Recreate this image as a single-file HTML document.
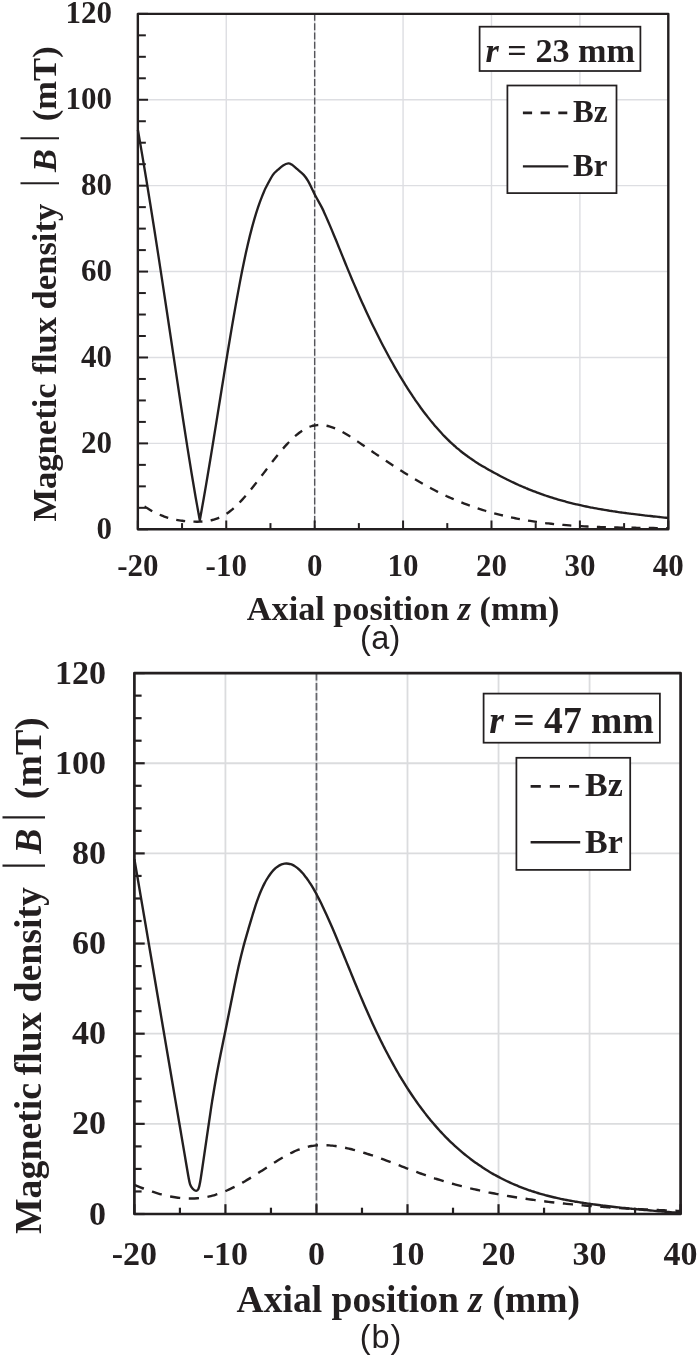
<!DOCTYPE html>
<html lang="en">
<head>
<meta charset="utf-8">
<title>Magnetic flux density versus axial position</title>
<style>
html,body{margin:0;padding:0;background:#ffffff;}
body{width:700px;height:1356px;overflow:hidden;}
svg{display:block;filter:blur(0.45px);}
svg text{font-family:"Liberation Serif",serif;font-weight:bold;fill:#231f20;}
</style>
</head>
<body>
<svg width="700" height="1356" viewBox="0 0 700 1356">
<rect x="0" y="0" width="700" height="1356" fill="#ffffff"/>
<g>
<line x1="226.26" y1="13.85" x2="226.26" y2="529.30" stroke="#dddee2" stroke-width="1.40"/>
<line x1="314.67" y1="13.85" x2="314.67" y2="529.30" stroke="#dddee2" stroke-width="1.40"/>
<line x1="403.07" y1="13.85" x2="403.07" y2="529.30" stroke="#dddee2" stroke-width="1.40"/>
<line x1="491.48" y1="13.85" x2="491.48" y2="529.30" stroke="#dddee2" stroke-width="1.40"/>
<line x1="579.89" y1="13.85" x2="579.89" y2="529.30" stroke="#dddee2" stroke-width="1.40"/>
<line x1="137.85" y1="443.39" x2="668.30" y2="443.39" stroke="#dddee2" stroke-width="1.40"/>
<line x1="137.85" y1="357.48" x2="668.30" y2="357.48" stroke="#dddee2" stroke-width="1.40"/>
<line x1="137.85" y1="271.57" x2="668.30" y2="271.57" stroke="#dddee2" stroke-width="1.40"/>
<line x1="137.85" y1="185.67" x2="668.30" y2="185.67" stroke="#dddee2" stroke-width="1.40"/>
<line x1="137.85" y1="99.76" x2="668.30" y2="99.76" stroke="#dddee2" stroke-width="1.40"/>
<line x1="314.67" y1="13.85" x2="314.67" y2="529.30" stroke="#55555a" stroke-width="1.40" stroke-dasharray="7 2.3"/>
<line x1="137.85" y1="529.30" x2="148.05" y2="529.30" stroke="#231f20" stroke-width="2.00"/>
<line x1="137.85" y1="507.82" x2="145.85" y2="507.82" stroke="#231f20" stroke-width="2.00"/>
<line x1="137.85" y1="486.35" x2="145.85" y2="486.35" stroke="#231f20" stroke-width="2.00"/>
<line x1="137.85" y1="464.87" x2="145.85" y2="464.87" stroke="#231f20" stroke-width="2.00"/>
<line x1="137.85" y1="443.39" x2="148.05" y2="443.39" stroke="#231f20" stroke-width="2.00"/>
<line x1="137.85" y1="421.91" x2="145.85" y2="421.91" stroke="#231f20" stroke-width="2.00"/>
<line x1="137.85" y1="400.44" x2="145.85" y2="400.44" stroke="#231f20" stroke-width="2.00"/>
<line x1="137.85" y1="378.96" x2="145.85" y2="378.96" stroke="#231f20" stroke-width="2.00"/>
<line x1="137.85" y1="357.48" x2="148.05" y2="357.48" stroke="#231f20" stroke-width="2.00"/>
<line x1="137.85" y1="336.01" x2="145.85" y2="336.01" stroke="#231f20" stroke-width="2.00"/>
<line x1="137.85" y1="314.53" x2="145.85" y2="314.53" stroke="#231f20" stroke-width="2.00"/>
<line x1="137.85" y1="293.05" x2="145.85" y2="293.05" stroke="#231f20" stroke-width="2.00"/>
<line x1="137.85" y1="271.57" x2="148.05" y2="271.57" stroke="#231f20" stroke-width="2.00"/>
<line x1="137.85" y1="250.10" x2="145.85" y2="250.10" stroke="#231f20" stroke-width="2.00"/>
<line x1="137.85" y1="228.62" x2="145.85" y2="228.62" stroke="#231f20" stroke-width="2.00"/>
<line x1="137.85" y1="207.14" x2="145.85" y2="207.14" stroke="#231f20" stroke-width="2.00"/>
<line x1="137.85" y1="185.67" x2="148.05" y2="185.67" stroke="#231f20" stroke-width="2.00"/>
<line x1="137.85" y1="164.19" x2="145.85" y2="164.19" stroke="#231f20" stroke-width="2.00"/>
<line x1="137.85" y1="142.71" x2="145.85" y2="142.71" stroke="#231f20" stroke-width="2.00"/>
<line x1="137.85" y1="121.24" x2="145.85" y2="121.24" stroke="#231f20" stroke-width="2.00"/>
<line x1="137.85" y1="99.76" x2="148.05" y2="99.76" stroke="#231f20" stroke-width="2.00"/>
<line x1="137.85" y1="78.28" x2="145.85" y2="78.28" stroke="#231f20" stroke-width="2.00"/>
<line x1="137.85" y1="56.80" x2="145.85" y2="56.80" stroke="#231f20" stroke-width="2.00"/>
<line x1="137.85" y1="35.33" x2="145.85" y2="35.33" stroke="#231f20" stroke-width="2.00"/>
<line x1="137.85" y1="13.85" x2="148.05" y2="13.85" stroke="#231f20" stroke-width="2.00"/>
<line x1="137.85" y1="529.30" x2="137.85" y2="520.50" stroke="#231f20" stroke-width="2.00"/>
<line x1="182.05" y1="529.30" x2="182.05" y2="523.10" stroke="#231f20" stroke-width="2.00"/>
<line x1="226.26" y1="529.30" x2="226.26" y2="520.50" stroke="#231f20" stroke-width="2.00"/>
<line x1="270.46" y1="529.30" x2="270.46" y2="523.10" stroke="#231f20" stroke-width="2.00"/>
<line x1="314.67" y1="529.30" x2="314.67" y2="520.50" stroke="#231f20" stroke-width="2.00"/>
<line x1="358.87" y1="529.30" x2="358.87" y2="523.10" stroke="#231f20" stroke-width="2.00"/>
<line x1="403.07" y1="529.30" x2="403.07" y2="520.50" stroke="#231f20" stroke-width="2.00"/>
<line x1="447.28" y1="529.30" x2="447.28" y2="523.10" stroke="#231f20" stroke-width="2.00"/>
<line x1="491.48" y1="529.30" x2="491.48" y2="520.50" stroke="#231f20" stroke-width="2.00"/>
<line x1="535.69" y1="529.30" x2="535.69" y2="523.10" stroke="#231f20" stroke-width="2.00"/>
<line x1="579.89" y1="529.30" x2="579.89" y2="520.50" stroke="#231f20" stroke-width="2.00"/>
<line x1="624.10" y1="529.30" x2="624.10" y2="523.10" stroke="#231f20" stroke-width="2.00"/>
<line x1="668.30" y1="529.30" x2="668.30" y2="520.50" stroke="#231f20" stroke-width="2.00"/>
<path d="M137.85,507.80C138.71,507.55 141.47,506.27 143.00,506.30C144.53,506.33 145.45,507.17 147.00,508.00C148.55,508.83 150.92,510.50 152.30,511.30C153.68,512.10 154.30,512.33 155.30,512.81C156.30,513.29 157.30,513.74 158.30,514.18C159.30,514.61 160.30,515.03 161.30,515.42C162.30,515.81 163.30,516.18 164.30,516.53C165.30,516.87 166.30,517.20 167.30,517.51C168.30,517.82 169.30,518.11 170.30,518.38C171.30,518.65 172.30,518.90 173.30,519.13C174.30,519.37 175.30,519.58 176.30,519.78C177.30,519.98 178.30,520.16 179.30,520.33C180.30,520.49 181.30,520.64 182.30,520.77C183.30,520.91 184.30,521.02 185.30,521.13C186.30,521.23 187.30,521.32 188.30,521.39C189.30,521.47 190.30,521.53 191.30,521.58C192.30,521.62 193.30,521.66 194.30,521.68C195.30,521.71 196.30,521.72 197.30,521.71C198.30,521.71 199.30,521.69 200.30,521.65C201.30,521.61 202.30,521.55 203.30,521.47C204.30,521.38 205.30,521.28 206.30,521.15C207.30,521.02 208.30,520.86 209.30,520.67C210.30,520.48 211.30,520.26 212.30,520.01C213.30,519.75 214.30,519.47 215.30,519.14C216.30,518.82 217.30,518.46 218.30,518.05C219.30,517.65 220.30,517.20 221.30,516.71C222.30,516.22 223.30,515.69 224.30,515.10C225.30,514.52 226.30,513.89 227.30,513.20C228.30,512.52 229.30,511.78 230.30,511.00C231.30,510.22 232.30,509.39 233.30,508.52C234.30,507.64 235.30,506.73 236.30,505.77C237.30,504.82 238.30,503.82 239.30,502.80C240.30,501.77 241.30,500.70 242.30,499.61C243.30,498.52 244.30,497.39 245.30,496.24C246.30,495.10 247.30,493.92 248.30,492.72C249.30,491.52 250.30,490.30 251.30,489.06C252.30,487.82 253.30,486.56 254.30,485.29C255.30,484.02 256.30,482.74 257.30,481.44C258.30,480.15 259.30,478.84 260.30,477.53C261.30,476.23 262.30,474.91 263.30,473.59C264.30,472.28 265.30,470.96 266.30,469.64C267.30,468.33 268.30,467.01 269.30,465.71C270.30,464.40 271.30,463.10 272.30,461.81C273.30,460.53 274.30,459.25 275.30,457.98C276.30,456.72 277.30,455.47 278.30,454.25C279.30,453.02 280.30,451.81 281.30,450.63C282.30,449.44 283.30,448.28 284.30,447.14C285.30,446.01 286.30,444.90 287.30,443.83C288.30,442.76 289.30,441.71 290.30,440.71C291.30,439.70 292.30,438.73 293.30,437.80C294.30,436.87 295.30,435.97 296.30,435.13C297.30,434.28 298.30,433.48 299.30,432.72C300.30,431.97 301.30,431.26 302.30,430.61C303.30,429.96 304.30,429.35 305.30,428.81C306.30,428.27 307.30,427.78 308.30,427.35C309.30,426.92 310.30,426.56 311.30,426.25C312.30,425.95 313.30,425.70 314.30,425.51C315.30,425.32 316.30,425.19 317.30,425.10C318.30,425.02 319.30,424.99 320.30,425.01C321.30,425.03 322.30,425.10 323.30,425.21C324.30,425.32 325.30,425.48 326.30,425.68C327.30,425.88 328.30,426.12 329.30,426.40C330.30,426.67 331.30,426.99 332.30,427.34C333.30,427.69 334.30,428.08 335.30,428.50C336.30,428.91 337.30,429.36 338.30,429.84C339.30,430.31 340.30,430.82 341.30,431.34C342.30,431.87 343.30,432.42 344.30,432.99C345.30,433.56 346.30,434.16 347.30,434.76C348.30,435.37 349.30,436.00 350.30,436.63C351.30,437.27 352.30,437.92 353.30,438.59C354.30,439.25 355.30,439.92 356.30,440.59C357.30,441.27 358.30,441.96 359.30,442.64C360.30,443.33 361.30,444.02 362.30,444.70C363.30,445.39 364.30,446.08 365.30,446.77C366.30,447.45 367.30,448.14 368.30,448.83C369.30,449.51 370.30,450.20 371.30,450.88C372.30,451.57 373.30,452.25 374.30,452.93C375.30,453.61 376.30,454.30 377.30,454.97C378.30,455.65 379.30,456.33 380.30,457.01C381.30,457.68 382.30,458.36 383.30,459.03C384.30,459.70 385.30,460.37 386.30,461.03C387.30,461.70 388.30,462.37 389.30,463.03C390.30,463.69 391.30,464.35 392.30,465.00C393.30,465.66 394.30,466.31 395.30,466.96C396.30,467.61 397.30,468.26 398.30,468.90C399.30,469.55 400.30,470.19 401.30,470.82C402.30,471.46 403.30,472.09 404.30,472.72C405.30,473.35 406.30,473.97 407.30,474.59C408.30,475.21 409.30,475.82 410.30,476.44C411.30,477.05 412.30,477.65 413.30,478.25C414.30,478.85 415.30,479.45 416.30,480.04C417.30,480.63 418.30,481.22 419.30,481.80C420.30,482.38 421.30,482.95 422.30,483.52C423.30,484.09 424.30,484.66 425.30,485.21C426.30,485.77 427.30,486.32 428.30,486.87C429.30,487.41 430.30,487.95 431.30,488.49C432.30,489.02 433.30,489.54 434.30,490.06C435.30,490.58 436.30,491.10 437.30,491.60C438.30,492.11 439.30,492.60 440.30,493.09C441.30,493.59 442.30,494.07 443.30,494.55C444.30,495.02 445.30,495.49 446.30,495.96C447.30,496.42 448.30,496.88 449.30,497.33C450.30,497.77 451.30,498.22 452.30,498.65C453.30,499.09 454.30,499.52 455.30,499.94C456.30,500.36 457.30,500.78 458.30,501.19C459.30,501.60 460.30,502.00 461.30,502.40C462.30,502.79 463.30,503.18 464.30,503.57C465.30,503.95 466.30,504.33 467.30,504.70C468.30,505.07 469.30,505.44 470.30,505.80C471.30,506.16 472.30,506.51 473.30,506.86C474.30,507.21 475.30,507.55 476.30,507.88C477.30,508.22 478.30,508.55 479.30,508.87C480.30,509.20 481.30,509.52 482.30,509.83C483.30,510.14 484.30,510.45 485.30,510.75C486.30,511.05 487.30,511.35 488.30,511.64C489.30,511.93 490.30,512.21 491.30,512.49C492.30,512.77 493.30,513.05 494.30,513.32C495.30,513.59 496.30,513.85 497.30,514.11C498.30,514.37 499.30,514.62 500.30,514.87C501.30,515.12 502.30,515.36 503.30,515.60C504.30,515.84 505.30,516.08 506.30,516.31C507.30,516.54 508.30,516.76 509.30,516.98C510.30,517.20 511.30,517.42 512.30,517.63C513.30,517.84 514.30,518.04 515.30,518.25C516.30,518.45 517.30,518.64 518.30,518.84C519.30,519.03 520.30,519.22 521.30,519.40C522.30,519.59 523.30,519.77 524.30,519.94C525.30,520.12 526.30,520.29 527.30,520.46C528.30,520.63 529.30,520.79 530.30,520.95C531.30,521.11 532.30,521.26 533.30,521.42C534.30,521.57 535.30,521.72 536.30,521.86C537.30,522.01 538.30,522.15 539.30,522.28C540.30,522.42 541.30,522.55 542.30,522.68C543.30,522.81 544.30,522.94 545.30,523.06C546.30,523.19 547.30,523.31 548.30,523.42C549.30,523.54 550.30,523.65 551.30,523.76C552.30,523.87 553.30,523.98 554.30,524.08C555.30,524.18 556.30,524.28 557.30,524.38C558.30,524.48 559.30,524.57 560.30,524.67C561.30,524.76 562.30,524.85 563.30,524.93C564.30,525.02 565.30,525.10 566.30,525.18C567.30,525.26 568.30,525.34 569.30,525.41C570.30,525.49 571.30,525.56 572.30,525.63C573.30,525.70 574.30,525.77 575.30,525.84C576.30,525.90 577.30,525.96 578.30,526.03C579.30,526.09 580.30,526.14 581.30,526.20C582.30,526.26 583.30,526.31 584.30,526.36C585.30,526.42 586.30,526.47 587.30,526.52C588.30,526.56 589.30,526.61 590.30,526.65C591.30,526.70 592.30,526.74 593.30,526.78C594.30,526.82 595.30,526.86 596.30,526.90C597.30,526.94 598.30,526.97 599.30,527.01C600.30,527.04 601.30,527.08 602.30,527.11C603.30,527.14 604.30,527.17 605.30,527.20C606.30,527.23 607.30,527.26 608.30,527.28C609.30,527.31 610.30,527.34 611.30,527.36C612.30,527.38 613.30,527.41 614.30,527.43C615.30,527.45 616.30,527.47 617.30,527.49C618.30,527.51 619.30,527.53 620.30,527.55C621.30,527.57 622.30,527.59 623.30,527.61C624.30,527.62 625.30,527.64 626.30,527.66C627.30,527.67 628.30,527.69 629.30,527.70C630.30,527.72 631.30,527.73 632.30,527.75C633.30,527.76 634.30,527.78 635.30,527.79C636.30,527.80 637.30,527.82 638.30,527.83C639.30,527.84 640.30,527.86 641.30,527.87C642.30,527.88 643.30,527.90 644.30,527.91C645.30,527.92 646.30,527.94 647.30,527.95C648.30,527.96 649.30,527.98 650.30,527.99C651.30,528.01 652.30,528.02 653.30,528.04C654.30,528.05 655.30,528.06 656.30,528.08C657.30,528.10 658.30,528.11 659.30,528.13C660.30,528.15 661.30,528.16 662.30,528.18C663.30,528.20 664.30,528.22 665.30,528.24C666.30,528.26 667.80,528.29 668.30,528.30" fill="none" stroke="#231f20" stroke-width="2.35" stroke-dasharray="9 8.3" stroke-dashoffset="10.40"/>
<path d="M137.85,129.70C138.54,133.68 140.60,145.48 141.98,153.58C143.36,161.68 144.73,169.93 146.11,178.29C147.49,186.64 148.86,195.14 150.24,203.72C151.62,212.31 152.99,221.01 154.37,229.78C155.75,238.56 157.12,247.44 158.50,256.37C159.88,265.30 161.25,274.32 162.63,283.37C164.01,292.43 165.38,301.55 166.76,310.70C168.14,319.84 169.51,329.04 170.89,338.24C172.27,347.44 173.64,356.69 175.02,365.90C176.40,375.11 177.77,384.36 179.15,393.50C180.53,402.65 181.90,411.78 183.28,420.76C184.66,429.73 186.03,438.65 187.41,447.36C188.79,456.07 190.16,464.67 191.54,473.02C192.92,481.37 194.29,489.55 195.67,497.43C197.05,505.31 199.11,516.49 199.80,520.30L199.80,520.30C200.13,518.46 201.13,513.01 201.80,509.29C202.47,505.57 203.14,501.79 203.80,497.97C204.47,494.16 205.14,490.29 205.81,486.39C206.47,482.48 207.14,478.54 207.81,474.56C208.48,470.59 209.14,466.58 209.81,462.54C210.48,458.51 211.15,454.44 211.81,450.36C212.48,446.27 213.15,442.16 213.81,438.05C214.48,433.93 215.15,429.79 215.82,425.64C216.48,421.50 217.15,417.34 217.82,413.18C218.49,409.02 219.15,404.86 219.82,400.70C220.49,396.54 221.16,392.38 221.82,388.24C222.49,384.09 223.16,379.94 223.83,375.82C224.49,371.70 225.16,367.58 225.83,363.49C226.50,359.40 227.16,355.33 227.83,351.29C228.50,347.25 229.16,343.23 229.83,339.24C230.50,335.26 231.17,331.30 231.83,327.39C232.50,323.48 233.17,319.60 233.84,315.77C234.50,311.94 235.17,308.14 235.84,304.41C236.51,300.67 237.17,296.98 237.84,293.35C238.51,289.73 239.18,286.15 239.84,282.64C240.51,279.14 241.18,275.69 241.84,272.33C242.51,268.96 243.18,265.66 243.85,262.45C244.51,259.24 245.18,256.10 245.85,253.06C246.52,250.02 247.18,247.06 247.85,244.20C248.52,241.34 249.19,238.57 249.85,235.89C250.52,233.21 251.19,230.62 251.86,228.12C252.52,225.62 253.19,223.21 253.86,220.88C254.53,218.55 255.19,216.30 255.86,214.14C256.53,211.97 257.19,209.89 257.86,207.89C258.53,205.89 259.20,203.97 259.86,202.12C260.53,200.27 261.20,198.51 261.87,196.81C262.53,195.11 263.20,193.49 263.87,191.94C264.54,190.39 264.37,190.35 265.87,187.51C267.38,184.67 270.88,177.87 272.90,174.90C274.92,171.93 276.30,171.28 278.00,169.70C279.70,168.12 281.38,166.45 283.10,165.40C284.82,164.35 286.87,163.53 288.30,163.40C289.73,163.27 290.27,163.68 291.70,164.60C293.13,165.52 294.90,167.18 296.90,168.90C298.90,170.62 301.85,172.90 303.70,174.90C305.55,176.90 306.57,178.48 308.00,180.90C309.43,183.32 311.02,186.83 312.30,189.40C313.58,191.97 314.09,193.27 315.70,196.30C317.31,199.33 320.56,204.99 321.93,207.59C323.30,210.20 323.27,210.46 323.93,211.92C324.60,213.39 325.27,214.87 325.93,216.38C326.60,217.88 327.27,219.41 327.94,220.95C328.60,222.49 329.27,224.05 329.94,225.62C330.61,227.19 331.27,228.77 331.94,230.37C332.61,231.97 333.28,233.57 333.94,235.19C334.61,236.81 335.28,238.43 335.95,240.06C336.61,241.70 337.28,243.34 337.95,244.98C338.61,246.62 339.28,248.27 339.95,249.91C340.62,251.56 341.28,253.21 341.95,254.86C342.62,256.50 343.29,258.15 343.95,259.79C344.62,261.44 345.29,263.08 345.96,264.71C346.62,266.34 347.29,267.97 347.96,269.59C348.63,271.21 349.29,272.82 349.96,274.42C350.63,276.02 351.30,277.61 351.96,279.19C352.63,280.77 353.30,282.34 353.96,283.90C354.63,285.46 355.30,287.01 355.97,288.55C356.63,290.09 357.30,291.62 357.97,293.14C358.64,294.66 359.30,296.17 359.97,297.67C360.64,299.17 361.31,300.66 361.97,302.15C362.64,303.63 363.31,305.10 363.98,306.56C364.64,308.02 365.31,309.47 365.98,310.92C366.64,312.36 367.31,313.79 367.98,315.21C368.65,316.64 369.31,318.05 369.98,319.45C370.65,320.86 371.32,322.25 371.98,323.64C372.65,325.02 373.32,326.39 373.99,327.76C374.65,329.12 375.32,330.48 375.99,331.83C376.66,333.17 377.32,334.51 377.99,335.84C378.66,337.16 379.32,338.48 379.99,339.79C380.66,341.10 381.33,342.39 381.99,343.68C382.66,344.97 383.33,346.25 384.00,347.52C384.66,348.79 385.33,350.05 386.00,351.30C386.67,352.55 387.33,353.79 388.00,355.02C388.67,356.25 389.34,357.47 390.00,358.69C390.67,359.90 391.34,361.10 392.01,362.29C392.67,363.49 393.34,364.67 394.01,365.84C394.67,367.02 395.34,368.18 396.01,369.34C396.68,370.49 397.34,371.63 398.01,372.77C398.68,373.91 399.35,375.03 400.01,376.15C400.68,377.26 401.35,378.37 402.02,379.47C402.68,380.56 403.35,381.65 404.02,382.73C404.69,383.81 405.35,384.87 406.02,385.93C406.69,386.99 407.35,388.04 408.02,389.08C408.69,390.12 409.36,391.15 410.02,392.17C410.69,393.19 411.36,394.20 412.03,395.20C412.69,396.20 413.36,397.19 414.03,398.17C414.70,399.15 415.36,400.13 416.03,401.09C416.70,402.05 417.37,403.00 418.03,403.95C418.70,404.89 419.37,405.82 420.04,406.75C420.70,407.67 421.37,408.58 422.04,409.49C422.70,410.39 423.37,411.29 424.04,412.17C424.71,413.06 425.37,413.93 426.04,414.80C426.71,415.67 427.38,416.52 428.04,417.37C428.71,418.22 429.38,419.05 430.05,419.88C430.71,420.71 431.38,421.53 432.05,422.33C432.72,423.14 433.38,423.94 434.05,424.73C434.72,425.52 435.38,426.30 436.05,427.07C436.72,427.84 437.39,428.60 438.05,429.35C438.72,430.10 439.39,430.84 440.06,431.57C440.72,432.30 441.39,433.02 442.06,433.73C442.73,434.45 443.39,435.15 444.06,435.84C444.73,436.53 445.40,437.22 446.06,437.89C446.73,438.56 447.40,439.23 448.06,439.88C448.73,440.53 449.40,441.18 450.07,441.81C450.73,442.45 451.40,443.07 452.07,443.69C452.74,444.30 453.40,444.91 454.07,445.50C454.74,446.10 455.41,446.68 456.07,447.26C456.74,447.84 457.41,448.40 458.08,448.96C458.74,449.52 459.41,450.07 460.08,450.61C460.75,451.15 461.41,451.69 462.08,452.21C462.75,452.74 463.41,453.25 464.08,453.76C464.75,454.27 465.42,454.77 466.08,455.26C466.75,455.76 467.42,456.24 468.09,456.72C468.75,457.20 469.42,457.67 470.09,458.14C470.76,458.60 471.42,459.06 472.09,459.51C472.76,459.97 473.43,460.41 474.09,460.86C474.76,461.30 475.43,461.73 476.09,462.16C476.76,462.59 477.43,463.01 478.10,463.43C478.76,463.85 479.43,464.27 480.10,464.68C480.77,465.09 481.43,465.49 482.10,465.89C482.77,466.29 483.44,466.69 484.10,467.08C484.77,467.48 485.44,467.87 486.11,468.25C486.77,468.64 487.44,469.02 488.11,469.40C488.78,469.78 489.44,470.15 490.11,470.53C490.78,470.90 491.44,471.27 492.11,471.64C492.78,472.01 493.45,472.38 494.11,472.74C494.78,473.10 495.45,473.46 496.12,473.82C496.78,474.18 497.45,474.54 498.12,474.89C498.79,475.25 499.45,475.60 500.12,475.95C500.79,476.30 501.46,476.64 502.12,476.99C502.79,477.33 503.46,477.67 504.12,478.01C504.79,478.35 505.46,478.69 506.13,479.02C506.79,479.36 507.46,479.69 508.13,480.02C508.80,480.34 509.46,480.67 510.13,480.99C510.80,481.32 511.47,481.64 512.13,481.96C512.80,482.27 513.47,482.59 514.14,482.90C514.80,483.21 515.47,483.52 516.14,483.83C516.80,484.14 517.47,484.44 518.14,484.75C518.81,485.05 519.47,485.35 520.14,485.64C520.81,485.94 521.48,486.23 522.14,486.52C522.81,486.81 523.48,487.10 524.15,487.38C524.81,487.67 525.48,487.95 526.15,488.23C526.82,488.51 527.48,488.79 528.15,489.06C528.82,489.33 529.49,489.60 530.15,489.87C530.82,490.14 531.49,490.40 532.15,490.66C532.82,490.93 533.49,491.19 534.16,491.44C534.82,491.70 535.49,491.95 536.16,492.20C536.83,492.45 537.49,492.70 538.16,492.95C538.83,493.19 539.50,493.43 540.16,493.67C540.83,493.91 541.50,494.15 542.17,494.38C542.83,494.62 543.50,494.85 544.17,495.08C544.83,495.31 545.50,495.53 546.17,495.76C546.84,495.98 547.50,496.20 548.17,496.42C548.84,496.64 549.51,496.86 550.17,497.07C550.84,497.29 551.51,497.50 552.18,497.71C552.84,497.92 553.51,498.12 554.18,498.33C554.85,498.53 555.51,498.73 556.18,498.93C556.85,499.13 557.52,499.33 558.18,499.53C558.85,499.72 559.52,499.91 560.18,500.10C560.85,500.29 561.52,500.48 562.19,500.67C562.85,500.86 563.52,501.04 564.19,501.22C564.86,501.40 565.52,501.58 566.19,501.76C566.86,501.94 567.53,502.11 568.19,502.29C568.86,502.46 569.53,502.63 570.20,502.80C570.86,502.97 571.53,503.14 572.20,503.30C572.86,503.47 573.53,503.63 574.20,503.79C574.87,503.95 575.53,504.11 576.20,504.27C576.87,504.42 577.54,504.58 578.20,504.73C578.87,504.89 579.54,505.04 580.21,505.19C580.87,505.34 581.54,505.49 582.21,505.63C582.88,505.78 583.54,505.92 584.21,506.07C584.88,506.21 585.55,506.35 586.21,506.49C586.88,506.63 587.55,506.77 588.21,506.90C588.88,507.04 589.55,507.17 590.22,507.30C590.88,507.44 591.55,507.57 592.22,507.70C592.89,507.83 593.55,507.95 594.22,508.08C594.89,508.21 595.56,508.33 596.22,508.46C596.89,508.58 597.56,508.70 598.23,508.82C598.89,508.94 599.56,509.06 600.23,509.18C600.89,509.30 601.56,509.41 602.23,509.53C602.90,509.64 603.56,509.76 604.23,509.87C604.90,509.98 605.57,510.09 606.23,510.20C606.90,510.31 607.57,510.42 608.24,510.53C608.90,510.63 609.57,510.74 610.24,510.84C610.91,510.95 611.57,511.05 612.24,511.15C612.91,511.26 613.57,511.36 614.24,511.46C614.91,511.56 615.58,511.66 616.24,511.75C616.91,511.85 617.58,511.95 618.25,512.05C618.91,512.14 619.58,512.24 620.25,512.33C620.92,512.42 621.58,512.52 622.25,512.61C622.92,512.70 623.59,512.79 624.25,512.88C624.92,512.97 625.59,513.06 626.26,513.15C626.92,513.24 627.59,513.33 628.26,513.41C628.92,513.50 629.59,513.59 630.26,513.67C630.93,513.76 631.59,513.84 632.26,513.92C632.93,514.01 633.60,514.09 634.26,514.17C634.93,514.26 635.60,514.34 636.27,514.42C636.93,514.50 637.60,514.58 638.27,514.66C638.94,514.74 639.60,514.82 640.27,514.90C640.94,514.98 641.60,515.06 642.27,515.13C642.94,515.21 643.61,515.29 644.27,515.36C644.94,515.44 645.61,515.52 646.28,515.59C646.94,515.67 647.61,515.74 648.28,515.82C648.95,515.89 649.61,515.97 650.28,516.04C650.95,516.12 651.62,516.19 652.28,516.27C652.95,516.34 653.62,516.41 654.29,516.49C654.95,516.56 655.62,516.63 656.29,516.70C656.95,516.78 657.62,516.85 658.29,516.92C658.96,516.99 659.62,517.07 660.29,517.14C660.96,517.21 661.63,517.28 662.29,517.35C662.96,517.43 663.63,517.50 664.30,517.57C664.96,517.64 665.63,517.71 666.30,517.78C666.97,517.86 667.97,517.96 668.30,518.00" fill="none" stroke="#231f20" stroke-width="2.35" stroke-linejoin="round"/>
<rect x="137.85" y="13.85" width="530.45" height="515.45" fill="none" stroke="#231f20" stroke-width="2.40" stroke-linejoin="round"/>
<text transform="translate(112.00,538.70) scale(1,1.000)" text-anchor="end" font-size="31.00">0</text>
<text transform="translate(112.00,452.79) scale(1,1.000)" text-anchor="end" font-size="31.00">20</text>
<text transform="translate(112.00,366.88) scale(1,1.000)" text-anchor="end" font-size="31.00">40</text>
<text transform="translate(112.00,280.97) scale(1,1.000)" text-anchor="end" font-size="31.00">60</text>
<text transform="translate(112.00,195.07) scale(1,1.000)" text-anchor="end" font-size="31.00">80</text>
<text transform="translate(112.00,109.16) scale(1,1.000)" text-anchor="end" font-size="31.00">100</text>
<text transform="translate(112.00,23.25) scale(1,1.000)" text-anchor="end" font-size="31.00">120</text>
<text transform="translate(137.85,575.60) scale(1,1.000)" text-anchor="middle" font-size="31.00">-20</text>
<text transform="translate(226.26,575.60) scale(1,1.000)" text-anchor="middle" font-size="31.00">-10</text>
<text transform="translate(314.67,575.60) scale(1,1.000)" text-anchor="middle" font-size="31.00">0</text>
<text transform="translate(403.07,575.60) scale(1,1.000)" text-anchor="middle" font-size="31.00">10</text>
<text transform="translate(491.48,575.60) scale(1,1.000)" text-anchor="middle" font-size="31.00">20</text>
<text transform="translate(579.89,575.60) scale(1,1.000)" text-anchor="middle" font-size="31.00">30</text>
<text transform="translate(668.30,575.60) scale(1,1.000)" text-anchor="middle" font-size="31.00">40</text>
<text transform="translate(403.10,619.60) scale(1,1.000)" text-anchor="middle" font-size="34.20">Axial position <tspan font-style="italic">z</tspan> (mm)</text>
<text transform="translate(55.60,521.60) rotate(-90)" font-size="34.60">Magnetic</text>
<text transform="translate(55.60,374.60) rotate(-90)" font-size="34.60">flux</text>
<text transform="translate(55.60,309.40) rotate(-90)" font-size="34.60">density</text>
<text transform="translate(55.60,160.40) rotate(-90) scale(1.000,1)" font-size="34.60" font-style="italic" text-anchor="middle">B</text>
<text transform="translate(55.60,46.30) rotate(-90) scale(1.000,1)" font-size="34.60" text-anchor="end">(mT)</text>
<text transform="translate(50.30,183.20) rotate(-90)" style="font-weight:normal;font-size:42.00px" text-anchor="middle">|</text>
<text transform="translate(50.30,138.30) rotate(-90)" style="font-weight:normal;font-size:42.00px" text-anchor="middle">|</text>
<rect x="479.60" y="26.70" width="160.80" height="44.30" fill="#fff" stroke="#231f20" stroke-width="1.75"/>
<text transform="translate(560.30,62.00) scale(1,1.000)" text-anchor="middle" font-size="34.20"><tspan font-style="italic">r</tspan> = 23 mm</text>
<rect x="507.40" y="85.50" width="109.10" height="107.60" fill="#fff" stroke="#231f20" stroke-width="1.75"/>
<line x1="522.90" y1="112.90" x2="567.30" y2="112.90" stroke="#231f20" stroke-width="2.60" stroke-dasharray="9.2 8.5"/>
<line x1="522.90" y1="166.40" x2="568.30" y2="166.40" stroke="#231f20" stroke-width="2.40"/>
<text transform="translate(573.00,121.70) scale(1,1.000)" font-size="31.00">Bz</text>
<text transform="translate(573.00,175.90) scale(1,1.000)" font-size="31.00">Br</text>
<text x="380.40" y="649.20" text-anchor="middle" style="font-family:'Liberation Sans',sans-serif;font-weight:normal;font-size:32.50px;letter-spacing:0.30px">(a)</text>
</g>
<g>
<line x1="225.43" y1="673.10" x2="225.43" y2="1214.00" stroke="#dbdcde" stroke-width="1.80"/>
<line x1="316.47" y1="673.10" x2="316.47" y2="1214.00" stroke="#dbdcde" stroke-width="1.80"/>
<line x1="407.50" y1="673.10" x2="407.50" y2="1214.00" stroke="#dbdcde" stroke-width="1.80"/>
<line x1="498.53" y1="673.10" x2="498.53" y2="1214.00" stroke="#dbdcde" stroke-width="1.80"/>
<line x1="589.57" y1="673.10" x2="589.57" y2="1214.00" stroke="#dbdcde" stroke-width="1.80"/>
<line x1="134.40" y1="1123.85" x2="680.60" y2="1123.85" stroke="#dbdcde" stroke-width="1.80"/>
<line x1="134.40" y1="1033.70" x2="680.60" y2="1033.70" stroke="#dbdcde" stroke-width="1.80"/>
<line x1="134.40" y1="943.55" x2="680.60" y2="943.55" stroke="#dbdcde" stroke-width="1.80"/>
<line x1="134.40" y1="853.40" x2="680.60" y2="853.40" stroke="#dbdcde" stroke-width="1.80"/>
<line x1="134.40" y1="763.25" x2="680.60" y2="763.25" stroke="#dbdcde" stroke-width="1.80"/>
<line x1="316.47" y1="673.10" x2="316.47" y2="1214.00" stroke="#66666b" stroke-width="1.70" stroke-dasharray="7.5 2.5"/>
<line x1="134.40" y1="1214.00" x2="144.70" y2="1214.00" stroke="#231f20" stroke-width="2.20"/>
<line x1="134.40" y1="1191.46" x2="141.60" y2="1191.46" stroke="#231f20" stroke-width="2.20"/>
<line x1="134.40" y1="1168.92" x2="141.60" y2="1168.92" stroke="#231f20" stroke-width="2.20"/>
<line x1="134.40" y1="1146.39" x2="141.60" y2="1146.39" stroke="#231f20" stroke-width="2.20"/>
<line x1="134.40" y1="1123.85" x2="144.70" y2="1123.85" stroke="#231f20" stroke-width="2.20"/>
<line x1="134.40" y1="1101.31" x2="141.60" y2="1101.31" stroke="#231f20" stroke-width="2.20"/>
<line x1="134.40" y1="1078.78" x2="141.60" y2="1078.78" stroke="#231f20" stroke-width="2.20"/>
<line x1="134.40" y1="1056.24" x2="141.60" y2="1056.24" stroke="#231f20" stroke-width="2.20"/>
<line x1="134.40" y1="1033.70" x2="144.70" y2="1033.70" stroke="#231f20" stroke-width="2.20"/>
<line x1="134.40" y1="1011.16" x2="141.60" y2="1011.16" stroke="#231f20" stroke-width="2.20"/>
<line x1="134.40" y1="988.62" x2="141.60" y2="988.62" stroke="#231f20" stroke-width="2.20"/>
<line x1="134.40" y1="966.09" x2="141.60" y2="966.09" stroke="#231f20" stroke-width="2.20"/>
<line x1="134.40" y1="943.55" x2="144.70" y2="943.55" stroke="#231f20" stroke-width="2.20"/>
<line x1="134.40" y1="921.01" x2="141.60" y2="921.01" stroke="#231f20" stroke-width="2.20"/>
<line x1="134.40" y1="898.48" x2="141.60" y2="898.48" stroke="#231f20" stroke-width="2.20"/>
<line x1="134.40" y1="875.94" x2="141.60" y2="875.94" stroke="#231f20" stroke-width="2.20"/>
<line x1="134.40" y1="853.40" x2="144.70" y2="853.40" stroke="#231f20" stroke-width="2.20"/>
<line x1="134.40" y1="830.86" x2="141.60" y2="830.86" stroke="#231f20" stroke-width="2.20"/>
<line x1="134.40" y1="808.33" x2="141.60" y2="808.33" stroke="#231f20" stroke-width="2.20"/>
<line x1="134.40" y1="785.79" x2="141.60" y2="785.79" stroke="#231f20" stroke-width="2.20"/>
<line x1="134.40" y1="763.25" x2="144.70" y2="763.25" stroke="#231f20" stroke-width="2.20"/>
<line x1="134.40" y1="740.71" x2="141.60" y2="740.71" stroke="#231f20" stroke-width="2.20"/>
<line x1="134.40" y1="718.18" x2="141.60" y2="718.18" stroke="#231f20" stroke-width="2.20"/>
<line x1="134.40" y1="695.64" x2="141.60" y2="695.64" stroke="#231f20" stroke-width="2.20"/>
<line x1="134.40" y1="673.10" x2="144.70" y2="673.10" stroke="#231f20" stroke-width="2.20"/>
<line x1="134.40" y1="1214.00" x2="134.40" y2="1204.20" stroke="#231f20" stroke-width="2.20"/>
<line x1="179.92" y1="1214.00" x2="179.92" y2="1207.70" stroke="#231f20" stroke-width="2.20"/>
<line x1="225.43" y1="1214.00" x2="225.43" y2="1204.20" stroke="#231f20" stroke-width="2.20"/>
<line x1="270.95" y1="1214.00" x2="270.95" y2="1207.70" stroke="#231f20" stroke-width="2.20"/>
<line x1="316.47" y1="1214.00" x2="316.47" y2="1204.20" stroke="#231f20" stroke-width="2.20"/>
<line x1="361.98" y1="1214.00" x2="361.98" y2="1207.70" stroke="#231f20" stroke-width="2.20"/>
<line x1="407.50" y1="1214.00" x2="407.50" y2="1204.20" stroke="#231f20" stroke-width="2.20"/>
<line x1="453.02" y1="1214.00" x2="453.02" y2="1207.70" stroke="#231f20" stroke-width="2.20"/>
<line x1="498.53" y1="1214.00" x2="498.53" y2="1204.20" stroke="#231f20" stroke-width="2.20"/>
<line x1="544.05" y1="1214.00" x2="544.05" y2="1207.70" stroke="#231f20" stroke-width="2.20"/>
<line x1="589.57" y1="1214.00" x2="589.57" y2="1204.20" stroke="#231f20" stroke-width="2.20"/>
<line x1="635.08" y1="1214.00" x2="635.08" y2="1207.70" stroke="#231f20" stroke-width="2.20"/>
<line x1="680.60" y1="1214.00" x2="680.60" y2="1204.20" stroke="#231f20" stroke-width="2.20"/>
<path d="M134.40,1184.90C134.90,1185.11 136.40,1185.74 137.40,1186.14C138.40,1186.55 139.40,1186.95 140.40,1187.34C141.40,1187.74 142.40,1188.13 143.40,1188.50C144.40,1188.88 145.40,1189.26 146.40,1189.62C147.40,1189.98 148.41,1190.34 149.41,1190.68C150.41,1191.03 151.41,1191.37 152.41,1191.70C153.41,1192.03 154.41,1192.35 155.41,1192.65C156.41,1192.96 157.41,1193.26 158.41,1193.55C159.41,1193.84 160.41,1194.12 161.41,1194.39C162.41,1194.66 163.41,1194.91 164.41,1195.16C165.41,1195.40 166.41,1195.64 167.41,1195.86C168.41,1196.08 169.41,1196.29 170.41,1196.48C171.41,1196.68 172.41,1196.86 173.41,1197.03C174.41,1197.20 175.42,1197.36 176.42,1197.50C177.42,1197.65 178.42,1197.78 179.42,1197.89C180.42,1198.01 181.42,1198.11 182.42,1198.19C183.42,1198.28 184.42,1198.35 185.42,1198.40C186.42,1198.46 187.42,1198.50 188.42,1198.52C189.42,1198.54 190.42,1198.55 191.42,1198.54C192.42,1198.53 193.42,1198.51 194.42,1198.46C195.42,1198.42 196.42,1198.36 197.42,1198.28C198.42,1198.20 199.42,1198.11 200.42,1197.99C201.42,1197.88 202.42,1197.74 203.43,1197.59C204.43,1197.44 205.43,1197.27 206.43,1197.08C207.43,1196.88 208.43,1196.67 209.43,1196.44C210.43,1196.21 211.43,1195.96 212.43,1195.69C213.43,1195.42 214.43,1195.13 215.43,1194.82C216.43,1194.51 217.43,1194.18 218.43,1193.84C219.43,1193.49 220.43,1193.13 221.43,1192.75C222.43,1192.37 223.43,1191.97 224.43,1191.56C225.43,1191.15 226.43,1190.72 227.43,1190.27C228.43,1189.83 229.43,1189.37 230.44,1188.90C231.44,1188.43 232.44,1187.94 233.44,1187.44C234.44,1186.95 235.44,1186.43 236.44,1185.91C237.44,1185.39 238.44,1184.85 239.44,1184.31C240.44,1183.76 241.44,1183.20 242.44,1182.64C243.44,1182.07 244.44,1181.50 245.44,1180.91C246.44,1180.33 247.44,1179.73 248.44,1179.13C249.44,1178.53 250.44,1177.92 251.44,1177.31C252.44,1176.69 253.44,1176.07 254.44,1175.44C255.44,1174.81 256.44,1174.18 257.45,1173.54C258.45,1172.90 259.45,1172.25 260.45,1171.61C261.45,1170.96 262.45,1170.31 263.45,1169.66C264.45,1169.01 265.45,1168.35 266.45,1167.70C267.45,1167.05 268.45,1166.40 269.45,1165.75C270.45,1165.10 271.45,1164.45 272.45,1163.81C273.45,1163.17 274.45,1162.54 275.45,1161.91C276.45,1161.28 277.45,1160.66 278.45,1160.05C279.45,1159.44 280.45,1158.83 281.45,1158.24C282.45,1157.65 283.45,1157.07 284.45,1156.51C285.46,1155.94 286.46,1155.39 287.46,1154.85C288.46,1154.31 289.46,1153.79 290.46,1153.29C291.46,1152.79 292.46,1152.30 293.46,1151.83C294.46,1151.37 295.46,1150.92 296.46,1150.50C297.46,1150.07 298.46,1149.67 299.46,1149.29C300.46,1148.91 301.46,1148.56 302.46,1148.23C303.46,1147.90 304.46,1147.60 305.46,1147.33C306.46,1147.05 307.46,1146.81 308.46,1146.59C309.46,1146.37 310.46,1146.18 311.46,1146.01C312.47,1145.84 313.47,1145.70 314.47,1145.58C315.47,1145.46 316.47,1145.36 317.47,1145.29C318.47,1145.21 319.47,1145.16 320.47,1145.13C321.47,1145.10 322.47,1145.09 323.47,1145.10C324.47,1145.10 325.47,1145.13 326.47,1145.18C327.47,1145.22 328.47,1145.29 329.47,1145.37C330.47,1145.45 331.47,1145.55 332.47,1145.66C333.47,1145.77 334.47,1145.90 335.47,1146.04C336.47,1146.18 337.47,1146.34 338.47,1146.51C339.48,1146.67 340.48,1146.86 341.48,1147.05C342.48,1147.24 343.48,1147.44 344.48,1147.65C345.48,1147.86 346.48,1148.08 347.48,1148.31C348.48,1148.54 349.48,1148.78 350.48,1149.03C351.48,1149.27 352.48,1149.53 353.48,1149.79C354.48,1150.05 355.48,1150.32 356.48,1150.60C357.48,1150.88 358.48,1151.16 359.48,1151.45C360.48,1151.74 361.48,1152.04 362.48,1152.34C363.48,1152.65 364.48,1152.96 365.48,1153.27C366.48,1153.59 367.49,1153.91 368.49,1154.24C369.49,1154.56 370.49,1154.90 371.49,1155.23C372.49,1155.57 373.49,1155.91 374.49,1156.26C375.49,1156.60 376.49,1156.95 377.49,1157.31C378.49,1157.66 379.49,1158.02 380.49,1158.38C381.49,1158.74 382.49,1159.11 383.49,1159.47C384.49,1159.84 385.49,1160.21 386.49,1160.58C387.49,1160.95 388.49,1161.33 389.49,1161.71C390.49,1162.08 391.49,1162.46 392.49,1162.84C393.49,1163.22 394.50,1163.60 395.50,1163.98C396.50,1164.36 397.50,1164.75 398.50,1165.13C399.50,1165.51 400.50,1165.90 401.50,1166.28C402.50,1166.67 403.50,1167.05 404.50,1167.43C405.50,1167.81 406.50,1168.20 407.50,1168.58C408.50,1168.96 409.50,1169.34 410.50,1169.72C411.50,1170.10 412.50,1170.48 413.50,1170.85C414.50,1171.23 415.50,1171.60 416.50,1171.97C417.50,1172.34 418.50,1172.71 419.50,1173.07C420.50,1173.44 421.51,1173.80 422.51,1174.16C423.51,1174.52 424.51,1174.88 425.51,1175.23C426.51,1175.58 427.51,1175.93 428.51,1176.27C429.51,1176.61 430.51,1176.95 431.51,1177.29C432.51,1177.62 433.51,1177.95 434.51,1178.28C435.51,1178.60 436.51,1178.93 437.51,1179.24C438.51,1179.56 439.51,1179.88 440.51,1180.19C441.51,1180.50 442.51,1180.80 443.51,1181.11C444.51,1181.41 445.51,1181.71 446.51,1182.00C447.51,1182.30 448.52,1182.59 449.52,1182.88C450.52,1183.16 451.52,1183.45 452.52,1183.73C453.52,1184.01 454.52,1184.28 455.52,1184.56C456.52,1184.83 457.52,1185.10 458.52,1185.36C459.52,1185.63 460.52,1185.89 461.52,1186.15C462.52,1186.41 463.52,1186.66 464.52,1186.92C465.52,1187.17 466.52,1187.42 467.52,1187.66C468.52,1187.91 469.52,1188.15 470.52,1188.39C471.52,1188.63 472.52,1188.86 473.52,1189.09C474.52,1189.33 475.52,1189.56 476.53,1189.78C477.53,1190.01 478.53,1190.23 479.53,1190.45C480.53,1190.67 481.53,1190.89 482.53,1191.11C483.53,1191.32 484.53,1191.53 485.53,1191.74C486.53,1191.95 487.53,1192.16 488.53,1192.36C489.53,1192.56 490.53,1192.76 491.53,1192.96C492.53,1193.16 493.53,1193.35 494.53,1193.55C495.53,1193.74 496.53,1193.93 497.53,1194.12C498.53,1194.30 499.53,1194.49 500.53,1194.67C501.53,1194.85 502.53,1195.03 503.54,1195.21C504.54,1195.39 505.54,1195.57 506.54,1195.74C507.54,1195.91 508.54,1196.08 509.54,1196.25C510.54,1196.42 511.54,1196.59 512.54,1196.75C513.54,1196.92 514.54,1197.08 515.54,1197.24C516.54,1197.40 517.54,1197.56 518.54,1197.71C519.54,1197.87 520.54,1198.02 521.54,1198.18C522.54,1198.33 523.54,1198.48 524.54,1198.63C525.54,1198.77 526.54,1198.92 527.54,1199.07C528.54,1199.21 529.54,1199.35 530.55,1199.49C531.55,1199.64 532.55,1199.77 533.55,1199.91C534.55,1200.05 535.55,1200.18 536.55,1200.32C537.55,1200.45 538.55,1200.58 539.55,1200.71C540.55,1200.84 541.55,1200.97 542.55,1201.10C543.55,1201.23 544.55,1201.35 545.55,1201.47C546.55,1201.60 547.55,1201.72 548.55,1201.84C549.55,1201.96 550.55,1202.08 551.55,1202.19C552.55,1202.31 553.55,1202.43 554.55,1202.54C555.55,1202.65 556.55,1202.77 557.55,1202.88C558.56,1202.99 559.56,1203.10 560.56,1203.20C561.56,1203.31 562.56,1203.42 563.56,1203.52C564.56,1203.62 565.56,1203.73 566.56,1203.83C567.56,1203.93 568.56,1204.03 569.56,1204.13C570.56,1204.23 571.56,1204.33 572.56,1204.42C573.56,1204.52 574.56,1204.61 575.56,1204.71C576.56,1204.80 577.56,1204.89 578.56,1204.98C579.56,1205.07 580.56,1205.16 581.56,1205.25C582.56,1205.34 583.56,1205.42 584.56,1205.51C585.57,1205.59 586.57,1205.68 587.57,1205.76C588.57,1205.84 589.57,1205.93 590.57,1206.01C591.57,1206.09 592.57,1206.17 593.57,1206.25C594.57,1206.32 595.57,1206.40 596.57,1206.48C597.57,1206.55 598.57,1206.63 599.57,1206.70C600.57,1206.78 601.57,1206.85 602.57,1206.92C603.57,1206.99 604.57,1207.06 605.57,1207.13C606.57,1207.20 607.57,1207.27 608.57,1207.34C609.57,1207.41 610.57,1207.47 611.57,1207.54C612.58,1207.61 613.58,1207.67 614.58,1207.73C615.58,1207.80 616.58,1207.86 617.58,1207.92C618.58,1207.99 619.58,1208.05 620.58,1208.11C621.58,1208.17 622.58,1208.23 623.58,1208.29C624.58,1208.35 625.58,1208.40 626.58,1208.46C627.58,1208.52 628.58,1208.57 629.58,1208.63C630.58,1208.69 631.58,1208.74 632.58,1208.80C633.58,1208.85 634.58,1208.90 635.58,1208.96C636.58,1209.01 637.58,1209.06 638.58,1209.11C639.58,1209.17 640.59,1209.22 641.59,1209.27C642.59,1209.32 643.59,1209.37 644.59,1209.42C645.59,1209.47 646.59,1209.51 647.59,1209.56C648.59,1209.61 649.59,1209.66 650.59,1209.71C651.59,1209.75 652.59,1209.80 653.59,1209.85C654.59,1209.89 655.59,1209.94 656.59,1209.98C657.59,1210.03 658.59,1210.07 659.59,1210.12C660.59,1210.16 661.59,1210.20 662.59,1210.25C663.59,1210.29 664.59,1210.34 665.59,1210.38C666.59,1210.42 667.60,1210.46 668.60,1210.51C669.60,1210.55 670.60,1210.59 671.60,1210.63C672.60,1210.67 673.60,1210.71 674.60,1210.76C675.60,1210.80 676.60,1210.84 677.60,1210.88C678.60,1210.92 680.10,1210.98 680.60,1211.00" fill="none" stroke="#231f20" stroke-width="2.40" stroke-dasharray="10.2 8.6" stroke-dashoffset="0.00"/>
<path d="M134.40,859.10C135.04,862.87 136.97,874.18 138.26,881.73C139.54,889.28 140.83,896.83 142.11,904.39C143.40,911.94 144.69,919.51 145.97,927.07C147.26,934.63 148.54,942.20 149.83,949.76C151.11,957.33 152.40,964.90 153.69,972.47C154.97,980.04 156.26,987.61 157.54,995.19C158.83,1002.76 160.11,1010.33 161.40,1017.90C162.69,1025.47 163.97,1033.04 165.26,1040.61C166.54,1048.18 167.83,1055.75 169.11,1063.31C170.40,1070.88 171.69,1078.44 172.97,1086.00C174.26,1093.56 175.54,1101.11 176.83,1108.67C178.11,1116.22 179.40,1123.77 180.69,1131.31C181.97,1138.85 183.26,1146.39 184.54,1153.92C185.83,1161.45 187.47,1171.44 188.40,1176.50C189.33,1181.56 189.38,1182.25 190.10,1184.30C190.82,1186.35 191.70,1187.70 192.70,1188.80C193.70,1189.90 195.15,1190.85 196.10,1190.90C197.05,1190.95 197.73,1190.53 198.40,1189.10C199.07,1187.67 199.33,1186.58 200.10,1182.30C200.87,1178.02 201.27,1175.11 203.00,1163.40C204.73,1151.69 208.92,1122.77 210.50,1112.05C212.08,1101.32 211.83,1103.24 212.50,1099.06C213.17,1094.87 213.83,1090.84 214.50,1086.93C215.17,1083.01 215.83,1079.24 216.50,1075.56C217.17,1071.88 217.84,1068.33 218.50,1064.85C219.17,1061.38 219.84,1058.03 220.50,1054.71C221.17,1051.39 221.84,1048.17 222.50,1044.93C223.17,1041.69 223.84,1038.52 224.50,1035.27C225.17,1032.03 225.84,1028.77 226.50,1025.47C227.17,1022.17 227.84,1018.82 228.50,1015.47C229.17,1012.13 229.84,1008.75 230.50,1005.41C231.17,1002.06 231.84,998.70 232.51,995.39C233.17,992.08 233.84,988.77 234.51,985.54C235.17,982.30 235.84,979.10 236.51,975.98C237.17,972.86 237.84,969.79 238.51,966.83C239.17,963.87 239.84,960.98 240.51,958.21C241.17,955.43 241.84,952.77 242.51,950.19C243.17,947.60 243.84,945.12 244.51,942.68C245.17,940.24 245.84,937.89 246.51,935.55C247.17,933.22 247.84,930.96 248.51,928.69C249.18,926.42 249.84,924.19 250.51,921.96C251.18,919.72 251.84,917.47 252.51,915.27C253.18,913.08 253.84,910.88 254.51,908.78C255.18,906.68 255.84,904.63 256.51,902.68C257.18,900.74 257.84,898.89 258.51,897.12C259.18,895.35 259.84,893.67 260.51,892.07C261.18,890.47 261.84,888.95 262.51,887.51C263.18,886.07 263.85,884.71 264.51,883.42C265.18,882.13 265.85,880.92 266.51,879.77C267.18,878.63 267.85,877.56 268.51,876.55C269.18,875.53 269.85,874.59 270.51,873.71C271.18,872.83 271.85,872.01 272.51,871.24C273.18,870.48 273.85,869.78 274.51,869.13C275.18,868.49 275.85,867.90 276.51,867.37C277.18,866.84 277.85,866.37 278.51,865.95C279.18,865.53 279.85,865.17 280.52,864.86C281.18,864.56 281.85,864.30 282.52,864.10C283.18,863.90 283.85,863.76 284.52,863.66C285.18,863.57 285.85,863.53 286.52,863.54C287.18,863.55 287.85,863.61 288.52,863.72C289.18,863.83 289.85,863.99 290.52,864.20C291.18,864.41 291.85,864.67 292.52,864.97C293.18,865.28 293.85,865.63 294.52,866.03C295.19,866.43 295.85,866.88 296.52,867.37C297.19,867.87 297.85,868.40 298.52,868.99C299.19,869.57 299.85,870.19 300.52,870.86C301.19,871.53 301.85,872.25 302.52,873.00C303.19,873.75 303.85,874.55 304.52,875.39C305.19,876.22 305.85,877.10 306.52,878.01C307.19,878.92 307.85,879.88 308.52,880.86C309.19,881.85 309.85,882.87 310.52,883.93C311.19,884.98 311.86,886.08 312.52,887.20C313.19,888.32 313.86,889.47 314.52,890.66C315.19,891.84 315.86,893.05 316.52,894.29C317.19,895.53 317.86,896.80 318.52,898.10C319.19,899.39 319.86,900.71 320.52,902.05C321.19,903.40 321.86,904.76 322.52,906.15C323.19,907.54 323.86,908.95 324.52,910.38C325.19,911.81 325.86,913.26 326.52,914.73C327.19,916.19 327.86,917.68 328.53,919.18C329.19,920.68 329.86,922.20 330.53,923.72C331.19,925.25 331.86,926.80 332.53,928.35C333.19,929.91 333.86,931.47 334.53,933.05C335.19,934.62 335.86,936.21 336.53,937.80C337.19,939.39 337.86,941.00 338.53,942.60C339.19,944.21 339.86,945.82 340.53,947.44C341.19,949.06 341.86,950.68 342.53,952.31C343.20,953.93 343.86,955.56 344.53,957.19C345.20,958.82 345.86,960.46 346.53,962.09C347.20,963.73 347.86,965.37 348.53,967.00C349.20,968.64 349.86,970.27 350.53,971.90C351.20,973.54 351.86,975.17 352.53,976.80C353.20,978.42 353.86,980.05 354.53,981.67C355.20,983.29 355.86,984.91 356.53,986.52C357.20,988.12 357.86,989.73 358.53,991.33C359.20,992.92 359.87,994.51 360.53,996.09C361.20,997.68 361.87,999.25 362.53,1000.81C363.20,1002.37 363.87,1003.93 364.53,1005.47C365.20,1007.01 365.87,1008.54 366.53,1010.06C367.20,1011.58 367.87,1013.08 368.53,1014.58C369.20,1016.07 369.87,1017.55 370.53,1019.02C371.20,1020.49 371.87,1021.95 372.53,1023.39C373.20,1024.84 373.87,1026.27 374.54,1027.69C375.20,1029.12 375.87,1030.53 376.54,1031.92C377.20,1033.32 377.87,1034.71 378.54,1036.08C379.20,1037.45 379.87,1038.82 380.54,1040.17C381.20,1041.52 381.87,1042.85 382.54,1044.18C383.20,1045.51 383.87,1046.82 384.54,1048.12C385.20,1049.42 385.87,1050.72 386.54,1051.99C387.20,1053.27 387.87,1054.54 388.54,1055.80C389.20,1057.05 389.87,1058.30 390.54,1059.53C391.21,1060.76 391.87,1061.98 392.54,1063.19C393.21,1064.40 393.87,1065.59 394.54,1066.78C395.21,1067.96 395.87,1069.14 396.54,1070.30C397.21,1071.46 397.87,1072.61 398.54,1073.75C399.21,1074.89 399.87,1076.02 400.54,1077.13C401.21,1078.25 401.87,1079.35 402.54,1080.45C403.21,1081.54 403.87,1082.62 404.54,1083.69C405.21,1084.76 405.88,1085.82 406.54,1086.87C407.21,1087.92 407.88,1088.96 408.54,1089.98C409.21,1091.01 409.88,1092.03 410.54,1093.03C411.21,1094.04 411.88,1095.03 412.54,1096.02C413.21,1097.00 413.88,1097.97 414.54,1098.94C415.21,1099.90 415.88,1100.85 416.54,1101.80C417.21,1102.74 417.88,1103.67 418.54,1104.59C419.21,1105.52 419.88,1106.43 420.54,1107.33C421.21,1108.23 421.88,1109.13 422.55,1110.01C423.21,1110.89 423.88,1111.76 424.55,1112.63C425.21,1113.49 425.88,1114.35 426.55,1115.19C427.21,1116.04 427.88,1116.87 428.55,1117.70C429.21,1118.52 429.88,1119.34 430.55,1120.15C431.21,1120.95 431.88,1121.75 432.55,1122.54C433.21,1123.33 433.88,1124.11 434.55,1124.88C435.21,1125.66 435.88,1126.42 436.55,1127.17C437.22,1127.93 437.88,1128.67 438.55,1129.41C439.22,1130.15 439.88,1130.88 440.55,1131.60C441.22,1132.32 441.88,1133.03 442.55,1133.73C443.22,1134.44 443.88,1135.13 444.55,1135.82C445.22,1136.51 445.88,1137.19 446.55,1137.86C447.22,1138.53 447.88,1139.20 448.55,1139.85C449.22,1140.51 449.88,1141.16 450.55,1141.80C451.22,1142.44 451.88,1143.08 452.55,1143.70C453.22,1144.33 453.89,1144.95 454.55,1145.56C455.22,1146.17 455.89,1146.78 456.55,1147.37C457.22,1147.97 457.89,1148.56 458.55,1149.14C459.22,1149.73 459.89,1150.30 460.55,1150.87C461.22,1151.44 461.89,1152.01 462.55,1152.56C463.22,1153.12 463.89,1153.67 464.55,1154.21C465.22,1154.76 465.89,1155.29 466.55,1155.82C467.22,1156.35 467.89,1156.88 468.56,1157.40C469.22,1157.92 469.89,1158.43 470.56,1158.93C471.22,1159.44 471.89,1159.94 472.56,1160.43C473.22,1160.93 473.89,1161.42 474.56,1161.90C475.22,1162.38 475.89,1162.86 476.56,1163.33C477.22,1163.80 477.89,1164.27 478.56,1164.73C479.22,1165.19 479.89,1165.64 480.56,1166.09C481.22,1166.54 481.89,1166.98 482.56,1167.42C483.22,1167.86 483.89,1168.29 484.56,1168.72C485.23,1169.15 485.89,1169.57 486.56,1169.98C487.23,1170.40 487.89,1170.81 488.56,1171.22C489.23,1171.62 489.89,1172.03 490.56,1172.42C491.23,1172.82 491.89,1173.21 492.56,1173.59C493.23,1173.98 493.89,1174.36 494.56,1174.73C495.23,1175.11 495.89,1175.48 496.56,1175.85C497.23,1176.21 497.89,1176.57 498.56,1176.93C499.23,1177.29 499.90,1177.64 500.56,1177.98C501.23,1178.33 501.90,1178.67 502.56,1179.01C503.23,1179.35 503.90,1179.68 504.56,1180.01C505.23,1180.34 505.90,1180.66 506.56,1180.98C507.23,1181.30 507.90,1181.62 508.56,1181.93C509.23,1182.24 509.90,1182.54 510.56,1182.85C511.23,1183.15 511.90,1183.45 512.56,1183.74C513.23,1184.03 513.90,1184.32 514.56,1184.61C515.23,1184.89 515.90,1185.17 516.57,1185.45C517.23,1185.73 517.90,1186.00 518.57,1186.27C519.23,1186.54 519.90,1186.80 520.57,1187.07C521.23,1187.33 521.90,1187.58 522.57,1187.84C523.23,1188.09 523.90,1188.34 524.57,1188.59C525.23,1188.83 525.90,1189.08 526.57,1189.32C527.23,1189.56 527.90,1189.79 528.57,1190.02C529.23,1190.26 529.90,1190.48 530.57,1190.71C531.24,1190.93 531.90,1191.15 532.57,1191.37C533.24,1191.59 533.90,1191.81 534.57,1192.02C535.24,1192.23 535.90,1192.44 536.57,1192.64C537.24,1192.85 537.90,1193.05 538.57,1193.25C539.24,1193.45 539.90,1193.64 540.57,1193.84C541.24,1194.03 541.90,1194.22 542.57,1194.41C543.24,1194.59 543.90,1194.78 544.57,1194.96C545.24,1195.14 545.90,1195.32 546.57,1195.49C547.24,1195.67 547.91,1195.84 548.57,1196.01C549.24,1196.18 549.91,1196.35 550.57,1196.51C551.24,1196.68 551.91,1196.84 552.57,1197.00C553.24,1197.16 553.91,1197.32 554.57,1197.47C555.24,1197.62 555.91,1197.78 556.57,1197.93C557.24,1198.08 557.91,1198.22 558.57,1198.37C559.24,1198.51 559.91,1198.66 560.57,1198.80C561.24,1198.94 561.91,1199.08 562.58,1199.21C563.24,1199.35 563.91,1199.49 564.58,1199.62C565.24,1199.75 565.91,1199.88 566.58,1200.01C567.24,1200.14 567.91,1200.26 568.58,1200.39C569.24,1200.51 569.91,1200.64 570.58,1200.76C571.24,1200.88 571.91,1201.00 572.58,1201.12C573.24,1201.23 573.91,1201.35 574.58,1201.46C575.24,1201.58 575.91,1201.69 576.58,1201.80C577.24,1201.91 577.91,1202.02 578.58,1202.13C579.25,1202.24 579.91,1202.35 580.58,1202.45C581.25,1202.56 581.91,1202.66 582.58,1202.77C583.25,1202.87 583.91,1202.97 584.58,1203.07C585.25,1203.17 585.91,1203.27 586.58,1203.37C587.25,1203.47 587.91,1203.57 588.58,1203.66C589.25,1203.76 589.91,1203.85 590.58,1203.95C591.25,1204.04 591.91,1204.14 592.58,1204.23C593.25,1204.32 593.91,1204.41 594.58,1204.50C595.25,1204.59 595.92,1204.68 596.58,1204.77C597.25,1204.86 597.92,1204.95 598.58,1205.04C599.25,1205.12 599.92,1205.21 600.58,1205.30C601.25,1205.38 601.92,1205.47 602.58,1205.55C603.25,1205.63 603.92,1205.72 604.58,1205.80C605.25,1205.88 605.92,1205.96 606.58,1206.04C607.25,1206.12 607.92,1206.20 608.58,1206.28C609.25,1206.36 609.92,1206.44 610.59,1206.52C611.25,1206.60 611.92,1206.67 612.59,1206.75C613.25,1206.83 613.92,1206.90 614.59,1206.98C615.25,1207.05 615.92,1207.12 616.59,1207.20C617.25,1207.27 617.92,1207.35 618.59,1207.42C619.25,1207.49 619.92,1207.56 620.59,1207.63C621.25,1207.70 621.92,1207.77 622.59,1207.84C623.25,1207.91 623.92,1207.98 624.59,1208.05C625.25,1208.12 625.92,1208.19 626.59,1208.26C627.26,1208.32 627.92,1208.39 628.59,1208.46C629.26,1208.52 629.92,1208.59 630.59,1208.66C631.26,1208.72 631.92,1208.79 632.59,1208.85C633.26,1208.92 633.92,1208.98 634.59,1209.04C635.26,1209.11 635.92,1209.17 636.59,1209.23C637.26,1209.30 637.92,1209.36 638.59,1209.42C639.26,1209.48 639.92,1209.55 640.59,1209.61C641.26,1209.67 641.93,1209.73 642.59,1209.79C643.26,1209.85 643.93,1209.91 644.59,1209.97C645.26,1210.03 645.93,1210.09 646.59,1210.15C647.26,1210.21 647.93,1210.27 648.59,1210.32C649.26,1210.38 649.93,1210.44 650.59,1210.50C651.26,1210.56 651.93,1210.61 652.59,1210.67C653.26,1210.73 653.93,1210.79 654.59,1210.84C655.26,1210.90 655.93,1210.96 656.59,1211.01C657.26,1211.07 657.93,1211.13 658.60,1211.18C659.26,1211.24 659.93,1211.30 660.60,1211.35C661.26,1211.41 661.93,1211.46 662.60,1211.52C663.26,1211.57 663.93,1211.63 664.60,1211.68C665.26,1211.74 665.93,1211.79 666.60,1211.85C667.26,1211.91 667.93,1211.96 668.60,1212.01C669.26,1212.07 669.93,1212.12 670.60,1212.18C671.26,1212.23 671.93,1212.29 672.60,1212.34C673.27,1212.40 673.93,1212.45 674.60,1212.51C675.27,1212.56 675.93,1212.62 676.60,1212.67C677.27,1212.73 677.93,1212.78 678.60,1212.84C679.27,1212.89 680.27,1212.97 680.60,1213.00" fill="none" stroke="#231f20" stroke-width="2.40" stroke-linejoin="round"/>
<rect x="134.40" y="673.10" width="546.20" height="540.90" fill="none" stroke="#231f20" stroke-width="2.70" stroke-linejoin="round"/>
<text transform="translate(106.00,1224.60) scale(1,1.000)" text-anchor="end" font-size="34.00">0</text>
<text transform="translate(106.00,1134.45) scale(1,1.000)" text-anchor="end" font-size="34.00">20</text>
<text transform="translate(106.00,1044.30) scale(1,1.000)" text-anchor="end" font-size="34.00">40</text>
<text transform="translate(106.00,954.15) scale(1,1.000)" text-anchor="end" font-size="34.00">60</text>
<text transform="translate(106.00,864.00) scale(1,1.000)" text-anchor="end" font-size="34.00">80</text>
<text transform="translate(106.00,773.85) scale(1,1.000)" text-anchor="end" font-size="34.00">100</text>
<text transform="translate(106.00,683.70) scale(1,1.000)" text-anchor="end" font-size="34.00">120</text>
<text transform="translate(134.40,1264.70) scale(1,1.000)" text-anchor="middle" font-size="34.00">-20</text>
<text transform="translate(225.43,1264.70) scale(1,1.000)" text-anchor="middle" font-size="34.00">-10</text>
<text transform="translate(316.47,1264.70) scale(1,1.000)" text-anchor="middle" font-size="34.00">0</text>
<text transform="translate(407.50,1264.70) scale(1,1.000)" text-anchor="middle" font-size="34.00">10</text>
<text transform="translate(498.53,1264.70) scale(1,1.000)" text-anchor="middle" font-size="34.00">20</text>
<text transform="translate(589.57,1264.70) scale(1,1.000)" text-anchor="middle" font-size="34.00">30</text>
<text transform="translate(680.60,1264.70) scale(1,1.000)" text-anchor="middle" font-size="34.00">40</text>
<text transform="translate(408.30,1312.40) scale(1,1.000)" text-anchor="middle" font-size="37.60">Axial position <tspan font-style="italic">z</tspan> (mm)</text>
<text transform="translate(40.60,1234.05) rotate(-90)" font-size="37.80">Magnetic</text>
<text transform="translate(40.60,1075.30) rotate(-90)" font-size="37.80">flux</text>
<text transform="translate(40.60,1002.50) rotate(-90)" font-size="37.80">density</text>
<text transform="translate(40.60,841.20) rotate(-90) scale(1.000,1)" font-size="37.80" font-style="italic" text-anchor="middle">B</text>
<text transform="translate(40.60,717.30) rotate(-90) scale(1.000,1)" font-size="37.80" text-anchor="end">(mT)</text>
<text transform="translate(35.10,865.60) rotate(-90)" style="font-weight:normal;font-size:46.40px" text-anchor="middle">|</text>
<text transform="translate(35.10,817.40) rotate(-90)" style="font-weight:normal;font-size:46.40px" text-anchor="middle">|</text>
<rect x="483.60" y="693.60" width="176.30" height="49.10" fill="#fff" stroke="#231f20" stroke-width="1.75"/>
<text transform="translate(571.50,732.50) scale(1,1.000)" text-anchor="middle" font-size="37.60"><tspan font-style="italic">r</tspan> = 47 mm</text>
<rect x="516.40" y="757.80" width="113.80" height="112.10" fill="#fff" stroke="#231f20" stroke-width="1.75"/>
<line x1="530.60" y1="786.40" x2="579.20" y2="786.40" stroke="#231f20" stroke-width="2.70" stroke-dasharray="10.2 9"/>
<line x1="530.60" y1="842.20" x2="580.20" y2="842.20" stroke="#231f20" stroke-width="2.50"/>
<text transform="translate(585.00,796.00) scale(1,1.000)" font-size="34.00">Bz</text>
<text transform="translate(585.00,852.60) scale(1,1.000)" font-size="34.00">Br</text>
<text x="381.00" y="1348.40" text-anchor="middle" style="font-family:'Liberation Sans',sans-serif;font-weight:normal;font-size:32.50px;letter-spacing:0.90px">(b)</text>
</g>
</svg>
</body>
</html>
